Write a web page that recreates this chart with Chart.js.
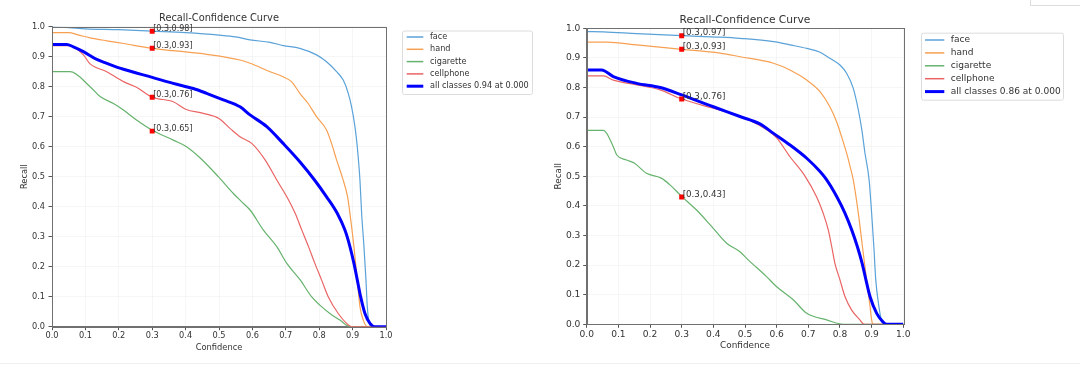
<!DOCTYPE html>
<html><head><meta charset="utf-8">
<script src="https://cdn.jsdelivr.net/npm/chart.js@4.4.1/dist/chart.umd.min.js"></script>
<style>
html,body{margin:0;padding:0;background:#fff;width:1080px;height:373px;overflow:hidden}
.wrap{position:absolute;top:0;width:540px;height:373px}
#topbox{position:absolute;left:1030px;top:-1px;width:50px;height:5px;border:1px solid #ddd;}
#rule{position:absolute;left:0;top:363px;width:1080px;height:0;border-top:1px solid #f0f0f0}
</style></head><body>
<div class="wrap" style="left:0"><canvas id="c1" width="540" height="373"></canvas></div>
<div class="wrap" style="left:540px"><canvas id="c2" width="540" height="373"></canvas></div>
<div id="topbox"></div><div id="rule"></div>
<script>
// ---------- DATA ----------
const classNames = ['face', 'hand', 'cigarette', 'cellphone'];
const axisTicks = [0.0, 0.1, 0.2, 0.3, 0.4, 0.5, 0.6, 0.7, 0.8, 0.9, 1.0];
const chartTitle = 'Recall-Confidence Curve';
const xTitle = 'Confidence';
const yTitle = 'Recall';

// left chart: [confidence, recall]
const leftFace = [[0,1.0],[0.05,0.997],[0.1,0.993],[0.2,0.99],[0.3,0.985],[0.4,0.98],[0.5,0.972],[0.55,0.966],[0.593,0.956],[0.653,0.948],[0.692,0.937],[0.742,0.928],[0.792,0.906],[0.822,0.883],[0.852,0.85],[0.872,0.822],[0.887,0.778],[0.897,0.733],[0.907,0.667],[0.914,0.6],[0.922,0.489],[0.927,0.378],[0.934,0.267],[0.94,0.156],[0.944,0.067],[0.95,0.011],[0.957,0],[1.0,0]];
const leftHand = [[0,0.98],[0.05,0.98],[0.08,0.972],[0.114,0.963],[0.164,0.953],[0.214,0.944],[0.3,0.928],[0.363,0.92],[0.463,0.908],[0.563,0.889],[0.593,0.878],[0.653,0.85],[0.692,0.833],[0.717,0.817],[0.742,0.778],[0.767,0.744],[0.792,0.7],[0.822,0.656],[0.837,0.611],[0.852,0.556],[0.87,0.495],[0.885,0.433],[0.892,0.378],[0.904,0.267],[0.914,0.156],[0.922,0.067],[0.932,0.022],[0.945,0],[1.0,0]];
const leftCigarette = [[0,0.85],[0.054,0.85],[0.114,0.8],[0.144,0.767],[0.184,0.744],[0.214,0.722],[0.253,0.689],[0.3,0.655],[0.363,0.622],[0.403,0.6],[0.443,0.563],[0.498,0.5],[0.543,0.444],[0.573,0.411],[0.593,0.389],[0.633,0.322],[0.673,0.267],[0.703,0.211],[0.743,0.156],[0.777,0.1],[0.802,0.072],[0.832,0.044],[0.862,0.022],[0.892,0],[1.0,0]];
const leftCellphone = [[0,0.937],[0.054,0.937],[0.094,0.906],[0.114,0.876],[0.164,0.85],[0.214,0.817],[0.253,0.798],[0.3,0.765],[0.363,0.75],[0.4,0.725],[0.453,0.711],[0.5,0.694],[0.533,0.661],[0.563,0.633],[0.598,0.611],[0.638,0.556],[0.673,0.489],[0.703,0.433],[0.728,0.378],[0.748,0.322],[0.768,0.267],[0.787,0.211],[0.807,0.156],[0.827,0.1],[0.857,0.044],[0.882,0.011],[0.897,0],[1.0,0]];
const leftAll = [[0,0.941],[0.044,0.941],[0.064,0.933],[0.094,0.917],[0.134,0.891],[0.164,0.878],[0.214,0.858],[0.3,0.831],[0.363,0.811],[0.423,0.794],[0.463,0.778],[0.513,0.756],[0.563,0.733],[0.593,0.706],[0.643,0.667],[0.692,0.611],[0.742,0.55],[0.786,0.489],[0.822,0.433],[0.854,0.378],[0.877,0.322],[0.892,0.267],[0.904,0.211],[0.914,0.156],[0.924,0.1],[0.937,0.044],[0.952,0.011],[0.967,0],[1.0,0]];
const leftAllLabel = 'all classes 0.94 at 0.000';
const leftMarkerRecall = [0.985, 0.928, 0.765, 0.652];
const leftMarkerText = ['[0.3,0.98]', '[0.3,0.93]', '[0.3,0.76]', '[0.3,0.65]'];

// right chart: [confidence, recall]
const rightFace = [[0,0.989],[0.053,0.988],[0.158,0.982],[0.3,0.975],[0.421,0.97],[0.484,0.966],[0.59,0.955],[0.642,0.944],[0.695,0.932],[0.737,0.919],[0.768,0.899],[0.8,0.876],[0.821,0.848],[0.842,0.797],[0.858,0.724],[0.869,0.657],[0.879,0.578],[0.892,0.488],[0.9,0.375],[0.907,0.262],[0.913,0.15],[0.923,0.06],[0.931,0.015],[0.942,0],[1.0,0]];
const rightHand = [[0,0.953],[0.063,0.953],[0.158,0.944],[0.3,0.929],[0.421,0.916],[0.484,0.904],[0.59,0.882],[0.642,0.859],[0.695,0.825],[0.737,0.786],[0.768,0.735],[0.789,0.685],[0.805,0.634],[0.821,0.578],[0.832,0.533],[0.842,0.488],[0.858,0.375],[0.871,0.262],[0.884,0.15],[0.895,0.06],[0.9,0.015],[0.905,0],[1.0,0]];
const rightCigarette = [[0,0.655],[0.053,0.655],[0.084,0.6],[0.095,0.572],[0.126,0.555],[0.15,0.545],[0.189,0.51],[0.237,0.493],[0.263,0.471],[0.3,0.432],[0.347,0.386],[0.395,0.33],[0.442,0.274],[0.484,0.245],[0.511,0.217],[0.568,0.161],[0.6,0.127],[0.653,0.082],[0.695,0.037],[0.758,0.015],[0.81,0],[1.0,0]];
const rightCellphone = [[0,0.839],[0.053,0.839],[0.084,0.825],[0.158,0.809],[0.232,0.792],[0.3,0.761],[0.4,0.73],[0.474,0.707],[0.569,0.657],[0.6,0.63],[0.642,0.566],[0.69,0.5],[0.726,0.431],[0.747,0.375],[0.763,0.319],[0.774,0.262],[0.784,0.206],[0.8,0.15],[0.816,0.093],[0.837,0.048],[0.863,0.015],[0.876,0],[1.0,0]];
const rightAll = [[0,0.859],[0.047,0.859],[0.084,0.837],[0.158,0.814],[0.232,0.8],[0.3,0.775],[0.4,0.735],[0.484,0.702],[0.547,0.677],[0.59,0.645],[0.642,0.606],[0.695,0.561],[0.737,0.516],[0.758,0.488],[0.79,0.431],[0.816,0.375],[0.837,0.319],[0.855,0.262],[0.87,0.206],[0.882,0.15],[0.895,0.093],[0.916,0.037],[0.935,0.009],[0.947,0],[1.0,0]];
const rightAllLabel = 'all classes 0.86 at 0.000';
const rightMarkerRecall = [0.975, 0.929, 0.761, 0.43];
const rightMarkerText = ['[0.3,0.97]', '[0.3,0.93]', '[0.3,0.76]', '[0.3,0.43]'];
const markerConf = 0.3;

// ---------- STYLE ----------
const FAMILY = "'DejaVu Sans', sans-serif";
const TEXT = '#333';
const classColors = ['#5aa2d8', '#f7a052', '#66b36e', '#ea6464'];
const allColor = '#0000ff';

function makeChart(id, series, allSeries, allLabel, mRecall, mText, L) {
  const H = 373, W = 540;
  const overlay = {
    id: 'overlay',
    afterDraw(chart) {
      const ctx = chart.ctx, a = chart.chartArea;
      ctx.save();
      ctx.strokeStyle = '#707070'; ctx.lineWidth = 1;
      ctx.strokeRect(Math.round(a.left) + 0.5, Math.round(a.top) + 0.5, Math.round(a.right - a.left), Math.round(a.bottom - a.top));
      ctx.fillStyle = TEXT;
      ctx.textAlign = 'center'; ctx.textBaseline = 'middle';
      ctx.font = L.titleSize + 'px ' + FAMILY;
      ctx.fillText(chartTitle, (a.left + a.right) / 2, L.titleY);
      ctx.font = L.axisSize + 'px ' + FAMILY;
      ctx.fillText(xTitle, (a.left + a.right) / 2, L.xTitleY);
      ctx.save();
      ctx.translate(L.yTitleX, (a.top + a.bottom) / 2);
      ctx.rotate(-Math.PI / 2);
      ctx.fillText(yTitle, 0, 0);
      ctx.restore();
      const xs = chart.scales.x, ys = chart.scales.y;
      ctx.textAlign = 'left';
      ctx.font = L.markSize + 'px ' + FAMILY;
      for (let i = 0; i < mRecall.length; i++) {
        ctx.fillText(mText[i], xs.getPixelForValue(markerConf) + 1, ys.getPixelForValue(mRecall[i]) - 2.5);
      }
      const lg = L.legend;
      ctx.fillStyle = 'rgba(255,255,255,0.85)';
      ctx.strokeStyle = '#dcdcdc';
      ctx.beginPath();
      ctx.roundRect(lg.x + 0.5, lg.y + 0.5, lg.w, lg.h, 2);
      ctx.fill(); ctx.stroke();
      ctx.font = lg.size + 'px ' + FAMILY;
      ctx.textBaseline = 'middle';
      const names = classNames.concat([allLabel]);
      const cols = classColors.concat([allColor]);
      for (let i = 0; i < names.length; i++) {
        const y = lg.row0 + i * lg.step;
        ctx.strokeStyle = cols[i];
        ctx.lineWidth = i === 4 ? 3 : 1.5;
        ctx.beginPath(); ctx.moveTo(lg.lx0, y); ctx.lineTo(lg.lx1, y); ctx.stroke();
        ctx.fillStyle = TEXT;
        ctx.fillText(names[i], lg.tx, y);
      }
      ctx.restore();
    }
  };
  const toXY = arr => arr.map(p => ({ x: p[0], y: p[1] }));
  const datasets = [];
  datasets.push({
    label: 'markers', data: mRecall.map(r => ({ x: markerConf, y: r })), showLine: false,
    pointStyle: 'rect', pointRadius: 3.5, backgroundColor: '#ff0000', borderColor: '#ff0000', borderWidth: 0
  });
  datasets.push({
    label: allLabel, data: toXY(allSeries), borderColor: allColor, borderWidth: 3, pointRadius: 0,
    fill: false, cubicInterpolationMode: 'monotone'
  });
  for (let i = series.length - 1; i >= 0; i--) {
    datasets.push({
      label: classNames[i], data: toXY(series[i]), borderColor: classColors[i], borderWidth: 1.2,
      pointRadius: 0, fill: false, cubicInterpolationMode: 'monotone'
    });
  }
  const tickFont = { family: FAMILY, size: L.tickSize };
  return new Chart(document.getElementById(id), {
    type: 'line',
    data: { datasets },
    options: {
      responsive: false, animation: false, events: [],
      layout: { padding: { left: 0, top: L.top, right: W - L.right, bottom: 0 } },
      plugins: { legend: { display: false }, tooltip: { enabled: false }, title: { display: false } },
      scales: {
        x: {
          type: 'linear', min: 0, max: 1,
          afterBuildTicks: s => { s.ticks = axisTicks.map(v => ({ value: v })); },
          afterFit: s => { s.height = H - L.bottom; },
          grid: { color: 'rgba(0,0,0,0.035)', tickColor: '#555', tickLength: 3.5, drawTicks: true },
          border: { color: '#707070', width: 1 },
          ticks: { color: TEXT, font: tickFont, padding: L.xPad, maxRotation: 0, autoSkip: false, callback: v => Number(v).toFixed(1) }
        },
        y: {
          type: 'linear', min: 0, max: 1,
          afterBuildTicks: s => { s.ticks = axisTicks.map(v => ({ value: v })); },
          afterFit: s => { s.width = L.left; },
          grid: { color: 'rgba(0,0,0,0.035)', tickColor: '#555', tickLength: 3.5, drawTicks: true },
          border: { color: '#707070', width: 1 },
          ticks: { color: TEXT, font: tickFont, padding: L.yPad, autoSkip: false, callback: v => Number(v).toFixed(1) }
        }
      }
    },
    plugins: [overlay]
  });
}

makeChart('c1', [leftFace, leftHand, leftCigarette, leftCellphone], leftAll, leftAllLabel, leftMarkerRecall, leftMarkerText, {
  left: 52, right: 386, top: 26.7, bottom: 326.7,
  tickSize: 8.2, xPad: 0.5, yPad: 3.5, titleSize: 9.8, titleY: 18.3, axisSize: 8.3, xTitleY: 347.7, yTitleX: 24.4, markSize: 8,
  legend: { x: 402, y: 30.5, w: 130, h: 63.5, size: 8.15, row0: 37, step: 12.3, lx0: 406.7, lx1: 423.3, tx: 430 }
});
makeChart('c2', [rightFace, rightHand, rightCigarette, rightCellphone], rightAll, rightAllLabel, rightMarkerRecall, rightMarkerText, {
  left: 46.7, right: 363.3, top: 28.3, bottom: 324.3,
  tickSize: 9.1, xPad: 1.2, yPad: 2.8, titleSize: 10.7, titleY: 20, axisSize: 8.9, xTitleY: 345.7, yTitleX: 18.8, markSize: 8.7,
  legend: { x: 381, y: 32.7, w: 142, h: 67, size: 9.05, row0: 40, step: 12.9, lx0: 385, lx1: 404.3, tx: 410.7 }
});
</script>
</body></html>
